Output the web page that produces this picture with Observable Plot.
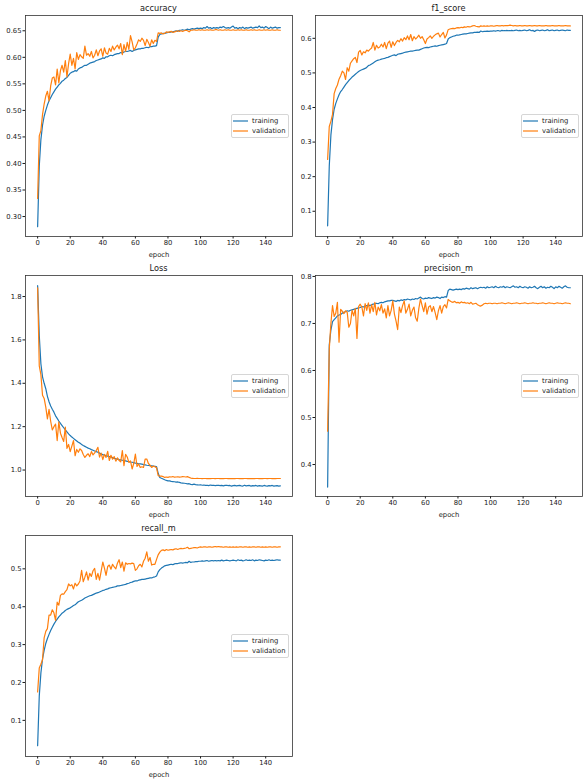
<!DOCTYPE html>
<html>
<head>
<meta charset="utf-8">
<script src="https://cdn.jsdelivr.net/npm/d3@7"></script>
<script src="https://cdn.jsdelivr.net/npm/@observablehq/plot@0.6"></script>
<style>
  body { margin: 0; background: #fff; font-family: "DejaVu Sans", sans-serif; }
  #page { position: relative; width: 586px; height: 783px; overflow: hidden; }
  .panel { position: absolute; width: 294px; }
  .panel svg { display: block; }
  .title {
    box-sizing: border-box; height: 14px; padding: 3px 2px 0 25px;
    line-height: 11px; font-size: 8.2px; color: #1a1a1a; text-align: center;
  }
  .legend {
    position: absolute; right: 5.5px; top: 113.5px; width: 58px; height: 24px;
    box-sizing: border-box; padding: 1px 0 0 1.5px;
    border: 1px solid #d6d6d6; border-radius: 2px; background: rgba(255,255,255,0.8);
    font-size: 6.8px; color: #1a1a1a;
  }
  .legend .row { height: 10.5px; line-height: 10.5px; white-space: nowrap; }
  .legend svg { display: inline-block; vertical-align: middle; margin-right: 4px; }
</style>
</head>
<body>
<div id="page"></div>
<script>
// epochs 0..149, values
const epochs = d3.range(150);
const xTicks = [0, 20, 40, 60, 80, 100, 120, 140];
const seriesNames = ["training", "validation"];
const seriesColors = ["#1f77b4", "#ff7f0e"];

const accTrain = [
  .281,.395,.445,.472,.489,.500,.510,.518,.524,.530,
  .535,.540,.544,.548,.551,.555,.557,.560,.562,.566,
  .570,.572,.573,.575,.574,.578,.580,.581,.583,.585,
  .585,.587,.589,.590,.591,.592,.594,.595,.596,.597,
  .599,.598,.601,.601,.603,.604,.603,.605,.606,.607,
  .607,.609,.608,.610,.611,.611,.612,.613,.611,.613,
  .614,.615,.616,.616,.617,.617,.618,.619,.618,.620,
  .620,.621,.621,.622,.638,.643,.644,.645,.645,.646,
  .647,.647,.648,.648,.649,.650,.649,.651,.651,.652,
  .651,.652,.653,.652,.653,.654,.653,.654,.655,.654,
  .655,.654,.656,.655,.658,.655,.656,.654,.656,.655,
  .656,.655,.657,.656,.658,.656,.655,.656,.655,.657,
  .659,.655,.656,.654,.656,.655,.657,.654,.656,.655,
  .656,.657,.655,.656,.657,.656,.659,.656,.657,.655,
  .658,.656,.654,.657,.655,.656,.657,.655,.656,.656
];
const accVal = [
  .334,.452,.462,.492,.512,.527,.536,.518,.546,.561,
  .563,.548,.578,.552,.575,.585,.572,.594,.563,.588,
  .606,.585,.598,.578,.609,.596,.605,.601,.598,.621,
  .604,.607,.602,.611,.599,.604,.614,.603,.612,.616,
  .602,.618,.608,.606,.617,.611,.621,.614,.619,.623,
  .616,.626,.605,.624,.611,.628,.615,.641,.629,.614,
  .618,.625,.633,.630,.636,.632,.622,.634,.628,.621,
  .633,.626,.632,.630,.646,.645,.646,.644,.645,.648,
  .647,.648,.649,.647,.648,.649,.650,.649,.650,.649,
  .650,.651,.650,.648,.651,.651,.652,.651,.651,.652,
  .651,.652,.651,.651,.652,.651,.652,.651,.651,.652,
  .652,.651,.652,.651,.651,.652,.651,.652,.651,.651,
  .652,.651,.651,.652,.651,.652,.651,.651,.652,.651,
  .651,.652,.651,.652,.651,.651,.652,.651,.651,.652,
  .651,.652,.651,.651,.652,.651,.651,.652,.651,.651
];

const f1Train = [
  .058,.230,.320,.365,.395,.412,.425,.437,.446,.452,
  .459,.466,.472,.478,.483,.488,.492,.496,.500,.504,
  .507,.509,.511,.513,.516,.521,.523,.526,.529,.532,
  .535,.537,.538,.540,.541,.542,.544,.545,.547,.549,
  .551,.552,.550,.554,.555,.556,.557,.559,.560,.561,
  .562,.563,.563,.564,.565,.566,.566,.568,.570,.572,
  .573,.574,.573,.575,.576,.577,.578,.577,.579,.580,
  .581,.582,.583,.585,.598,.602,.604,.606,.607,.609,
  .609,.610,.611,.612,.613,.613,.614,.615,.616,.616,
  .617,.617,.618,.617,.621,.619,.620,.620,.621,.620,
  .621,.621,.622,.621,.622,.622,.621,.623,.622,.622,
  .623,.622,.622,.623,.622,.623,.624,.622,.623,.622,
  .623,.624,.622,.623,.625,.622,.623,.620,.623,.624,
  .622,.623,.624,.622,.623,.625,.622,.623,.624,.622,
  .623,.624,.622,.623,.624,.623,.622,.624,.623,.623
];
const f1Val = [
  .250,.345,.360,.380,.440,.455,.465,.482,.492,.505,
  .500,.481,.515,.505,.528,.535,.541,.545,.530,.560,
  .565,.552,.561,.558,.566,.563,.568,.572,.588,.566,
  .580,.572,.575,.583,.575,.588,.570,.586,.592,.574,
  .590,.579,.588,.594,.590,.599,.592,.602,.596,.607,
  .596,.611,.593,.605,.598,.603,.609,.600,.605,.596,
  .585,.598,.602,.607,.600,.606,.610,.613,.615,.604,
  .611,.617,.601,.610,.625,.627,.628,.629,.628,.630,
  .631,.630,.632,.631,.633,.632,.634,.633,.634,.636,
  .637,.635,.634,.633,.636,.635,.636,.635,.636,.635,
  .636,.636,.635,.636,.637,.636,.636,.637,.636,.637,
  .637,.637,.638,.637,.636,.637,.636,.636,.637,.636,
  .636,.637,.636,.636,.637,.636,.636,.637,.636,.636,
  .637,.636,.636,.636,.637,.636,.636,.636,.637,.636,
  .636,.636,.637,.636,.636,.636,.637,.636,.636,.636
];

const lossTrain = [
  1.850,1.620,1.490,1.430,1.400,1.375,1.340,1.315,1.295,1.280,
  1.267,1.250,1.238,1.226,1.215,1.205,1.195,1.185,1.176,1.167,
  1.159,1.152,1.146,1.140,1.134,1.128,1.124,1.118,1.113,1.109,
  1.105,1.101,1.098,1.094,1.091,1.088,1.085,1.082,1.078,1.074,
  1.071,1.069,1.067,1.064,1.062,1.060,1.057,1.054,1.052,1.050,
  1.048,1.047,1.045,1.043,1.042,1.040,1.039,1.037,1.036,1.034,
  1.032,1.031,1.029,1.028,1.027,1.025,1.024,1.022,1.021,1.020,
  1.019,1.018,1.017,1.016,0.985,0.966,0.962,0.959,0.955,0.952,
  0.950,0.950,0.948,0.947,0.946,0.944,0.945,0.943,0.941,0.940,
  0.939,0.938,0.936,0.937,0.934,0.933,0.935,0.933,0.932,0.931,
  0.932,0.930,0.931,0.929,0.930,0.928,0.931,0.929,0.930,0.928,
  0.929,0.930,0.928,0.929,0.927,0.929,0.930,0.928,0.929,0.926,
  0.928,0.929,0.927,0.928,0.929,0.927,0.926,0.930,0.927,0.928,
  0.929,0.926,0.928,0.927,0.929,0.926,0.928,0.927,0.926,0.929,
  0.927,0.926,0.928,0.927,0.929,0.926,0.927,0.928,0.926,0.927
];
const lossVal = [
  1.840,1.480,1.440,1.345,1.330,1.290,1.236,1.280,1.225,1.185,
  1.200,1.212,1.136,1.222,1.170,1.150,1.132,1.198,1.100,1.118,
  1.085,1.110,1.136,1.066,1.095,1.082,1.098,1.090,1.072,1.058,
  1.068,1.075,1.062,1.085,1.070,1.079,1.090,1.105,1.060,1.078,
  1.048,1.072,1.058,1.086,1.044,1.068,1.050,1.062,1.041,1.056,
  1.044,1.038,1.090,1.020,1.072,1.060,1.035,1.042,1.005,1.030,
  1.074,1.017,1.028,1.012,1.015,1.012,1.050,1.051,1.030,1.022,
  1.012,1.018,1.015,1.010,0.974,0.972,0.972,0.970,0.966,0.968,
  0.966,0.969,0.968,0.970,0.967,0.968,0.969,0.967,0.968,0.970,
  0.969,0.968,0.970,0.966,0.963,0.962,0.961,0.961,0.962,0.961,
  0.961,0.960,0.961,0.961,0.960,0.961,0.960,0.961,0.961,0.960,
  0.961,0.961,0.960,0.961,0.960,0.961,0.961,0.960,0.961,0.960,
  0.961,0.960,0.961,0.961,0.960,0.961,0.960,0.961,0.961,0.960,
  0.961,0.960,0.961,0.960,0.961,0.961,0.960,0.961,0.960,0.961,
  0.961,0.960,0.961,0.961,0.960,0.961,0.960,0.961,0.961,0.961
];

const precTrain = [
  .352,.654,.686,.704,.708,.712,.716,.718,.719,.722,
  .724,.725,.727,.726,.728,.729,.730,.731,.732,.733,
  .734,.736,.735,.737,.738,.739,.738,.740,.741,.742,
  .743,.742,.744,.745,.744,.746,.747,.748,.748,.749,
  .749,.748,.747,.749,.748,.750,.749,.751,.750,.752,
  .751,.750,.752,.751,.753,.752,.754,.756,.753,.752,
  .754,.753,.755,.754,.753,.755,.754,.756,.755,.753,
  .756,.755,.757,.756,.770,.773,.772,.771,.772,.773,
  .772,.773,.772,.774,.773,.775,.774,.773,.776,.774,
  .775,.776,.774,.776,.777,.776,.777,.775,.778,.776,
  .777,.778,.776,.779,.777,.776,.778,.777,.779,.776,
  .778,.777,.776,.778,.780,.777,.778,.776,.779,.777,
  .776,.778,.777,.775,.778,.776,.777,.779,.776,.774,
  .777,.779,.776,.778,.775,.777,.776,.779,.777,.774,
  .778,.776,.779,.777,.775,.778,.780,.777,.776,.776
];
const precVal = [
  .471,.645,.700,.738,.715,.722,.745,.660,.730,.726,
  .721,.727,.724,.692,.700,.728,.716,.732,.668,.736,
  .741,.735,.716,.742,.728,.744,.722,.740,.725,.745,
  .718,.735,.727,.740,.722,.731,.712,.738,.716,.728,
  .748,.720,.705,.687,.735,.723,.738,.748,.722,.730,
  .741,.716,.728,.735,.712,.705,.732,.752,.738,.725,
  .744,.720,.735,.738,.725,.736,.723,.708,.727,.738,
  .722,.736,.740,.733,.751,.748,.746,.745,.747,.744,
  .745,.743,.746,.744,.745,.743,.744,.742,.745,.741,
  .742,.743,.740,.738,.737,.739,.742,.743,.742,.743,
  .743,.742,.743,.743,.742,.743,.743,.744,.743,.742,
  .743,.744,.743,.742,.743,.743,.744,.743,.742,.743,
  .743,.744,.743,.742,.743,.743,.744,.743,.743,.742,
  .743,.743,.744,.743,.742,.743,.744,.743,.743,.742,
  .743,.744,.743,.743,.742,.743,.744,.743,.743,.742
];

const recTrain = [
  .033,.164,.225,.262,.285,.303,.316,.327,.337,.346,
  .354,.361,.367,.373,.378,.383,.386,.390,.393,.395,
  .397,.400,.403,.405,.409,.413,.415,.417,.420,.423,
  .425,.427,.429,.430,.432,.434,.436,.437,.439,.441,
  .443,.444,.446,.447,.449,.450,.451,.452,.453,.455,
  .455,.456,.457,.458,.459,.461,.462,.464,.465,.467,
  .468,.468,.470,.471,.472,.472,.473,.474,.475,.476,
  .476,.478,.479,.481,.492,.498,.502,.505,.508,.509,
  .510,.511,.512,.511,.513,.514,.514,.515,.516,.515,
  .516,.517,.516,.520,.517,.518,.518,.519,.519,.520,
  .520,.521,.520,.521,.522,.520,.521,.522,.521,.522,
  .521,.522,.521,.523,.521,.522,.523,.522,.521,.522,
  .523,.522,.521,.524,.522,.523,.521,.522,.524,.522,
  .523,.522,.524,.521,.523,.522,.524,.523,.522,.521,
  .523,.522,.524,.522,.523,.522,.523,.524,.523,.523
];
const recVal = [
  .175,.238,.248,.260,.318,.335,.342,.378,.378,.392,
  .384,.364,.412,.404,.430,.434,.433,.440,.445,.460,
  .455,.458,.447,.462,.455,.460,.468,.496,.466,.478,
  .492,.470,.488,.480,.495,.501,.472,.488,.470,.494,
  .518,.502,.483,.506,.510,.499,.512,.505,.500,.515,
  .524,.503,.518,.494,.516,.512,.514,.513,.515,.514,
  .496,.500,.508,.512,.505,.520,.528,.545,.520,.530,
  .510,.512,.512,.525,.537,.544,.549,.550,.548,.551,
  .549,.550,.551,.550,.552,.553,.551,.553,.554,.553,
  .554,.555,.557,.553,.554,.555,.556,.556,.555,.557,
  .558,.557,.558,.558,.557,.558,.558,.557,.558,.559,
  .558,.559,.558,.558,.557,.558,.558,.557,.558,.557,
  .558,.557,.558,.557,.558,.558,.557,.558,.558,.557,
  .558,.557,.558,.558,.557,.558,.558,.557,.558,.557,
  .558,.557,.558,.558,.557,.558,.558,.557,.558,.558
];

const panels = [
  {title: "accuracy", left: 0, top: 0, train: accTrain, val: accVal,
   domain: [0.2624, 0.6788], ticks: [0.30, 0.35, 0.40, 0.45, 0.50, 0.55, 0.60, 0.65], fmt: ".2f"},
  {title: "f1_score", left: 290, top: 0, train: f1Train, val: f1Val,
   domain: [0.027, 0.666], ticks: [0.1, 0.2, 0.3, 0.4, 0.5, 0.6], fmt: ".1f"},
  {title: "Loss", left: 0, top: 260, train: lossTrain, val: lossVal,
   domain: [0.878, 1.897], ticks: [1.0, 1.2, 1.4, 1.6, 1.8], fmt: ".1f"},
  {title: "precision_m", left: 290, top: 260, train: precTrain, val: precVal,
   domain: [0.332, 0.802], ticks: [0.4, 0.5, 0.6, 0.7, 0.8], fmt: ".1f"},
  {title: "recall_m", left: 0, top: 520, train: recTrain, val: recVal,
   domain: [0.0046, 0.588], ticks: [0.1, 0.2, 0.3, 0.4, 0.5], fmt: ".1f"}
];

function makeLegend() {
  const box = document.createElement('div');
  box.className = 'legend';
  box.innerHTML = seriesNames.map((name, i) => `
    <div class="row"><svg width="15" height="4"><line x1="0" y1="2" x2="15" y2="2"
      stroke="${seriesColors[i]}" stroke-width="1.2"/></svg><span>${name}</span></div>
  `).join('');
  return box;
}

function drawPanel(p) {
  const rows = [
    ...epochs.map((e, i) => ({epoch: e, value: p.train[i], set: "training"})),
    ...epochs.map((e, i) => ({epoch: e, value: p.val[i], set: "validation"}))
  ];

  const panel = document.createElement('div');
  panel.className = 'panel';
  panel.style.left = p.left + 'px';
  panel.style.top = p.top + 'px';

  const title = document.createElement('div');
  title.className = 'title';
  title.textContent = p.title;
  panel.appendChild(title);

  const chart = Plot.plot({
    width: 294,
    height: 253,
    marginLeft: 25,
    marginRight: 2,
    marginTop: 1,
    marginBottom: 31,
    style: {fontFamily: "DejaVu Sans", fontSize: "6.8px", color: "#1a1a1a", background: "transparent"},
    x: {
      domain: [-7.45, 156.45],
      ticks: xTicks,
      tickSize: 2.5,
      tickPadding: 1.5,
      label: "epoch",
      labelAnchor: "center",
      labelArrow: "none",
      labelOffset: 20
    },
    y: {
      domain: p.domain,
      ticks: p.ticks,
      tickFormat: p.fmt,
      tickSize: 2.5,
      tickPadding: 1.5,
      label: null
    },
    color: {domain: seriesNames, range: seriesColors},
    marks: [
      Plot.line(rows, {x: "epoch", y: "value", stroke: "set", z: "set", strokeWidth: 1.2}),
      Plot.frame({stroke: "#333", strokeWidth: 0.8})
    ]
  });

  panel.appendChild(chart);
  panel.appendChild(makeLegend());
  document.getElementById('page').appendChild(panel);
}

panels.forEach(drawPanel);
</script>
</body>
</html>
